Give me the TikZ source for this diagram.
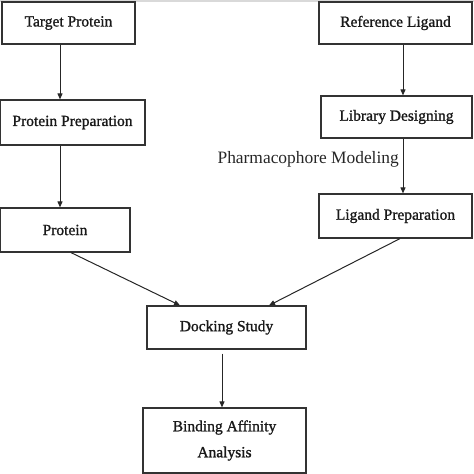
\documentclass[tikz,border=0pt]{standalone}
\usepackage{fontspec}
\setmainfont{Liberation Serif}
\newfontfamily\boxfont[FakeBold=1.2]{Liberation Serif}
\usetikzlibrary{arrows.meta}
\begin{document}
\begin{tikzpicture}[x=1pt,y=-1pt,
  box/.style={draw=black!80,line width=1.2pt,fill=white,inner sep=0pt,align=center,
    font=\boxfont\fontsize{15.5}{26}\selectfont,text=black!90},
  arr/.style={draw=black!85,line width=1pt,-{Triangle[length=6pt,width=5pt]}}]
\useasboundingbox (0,0) rectangle (474,474);
\fill[black!15] (0,0) rectangle (474,1.5);
\node[box,minimum width=133,minimum height=42] (tp) at (68.5,23) {Target Protein};
\node[box,minimum width=145,minimum height=45] (pp) at (72.5,122.5) {Protein Preparation};
\node[box,minimum width=130,minimum height=44] (pr) at (65,230) {Protein};
\node[box,minimum width=153,minimum height=42] (rl) at (395.5,23) {Reference Ligand};
\node[box,minimum width=151,minimum height=42] (ld) at (396.5,117) {Library Designing};
\node[box,minimum width=153,minimum height=44] (lp) at (395.5,216) {Ligand Preparation};
\node[box,minimum width=159,minimum height=43] (ds) at (226.5,327.5) {Docking Study};
\node[box,minimum width=163,minimum height=65] (ba) at (224.5,440.5) {Binding Affinity\\Analysis};
\node[font=\fontsize{17.4}{20}\selectfont,text=black!85,anchor=east,inner sep=0pt] (pm) at (399,159) {Pharmacophore Modeling};
\draw[arr] ([xshift=-8.5]tp.south) -- ([xshift=-8.5]tp.south |- pp.north);
\draw[arr] ([xshift=-12.5]pp.south) -- ([xshift=-12.5]pp.south |- pr.north);
\draw[arr] ([xshift=7.5]rl.south) -- ([xshift=7.5]rl.south |- ld.north);
\draw[arr] ([xshift=6.5]ld.south) -- ([xshift=6.5]ld.south |- lp.north);
\draw[arr] ([xshift=6]pr.south) -- ([xshift=-46.5]ds.north);
\draw[arr] ([xshift=4.5]lp.south) -- ([xshift=42.5]ds.north);
\draw[arr] ([xshift=-4.5,yshift=-4]ds.south) -- ([xshift=-2.5]ba.north);
\end{tikzpicture}
\end{document}
